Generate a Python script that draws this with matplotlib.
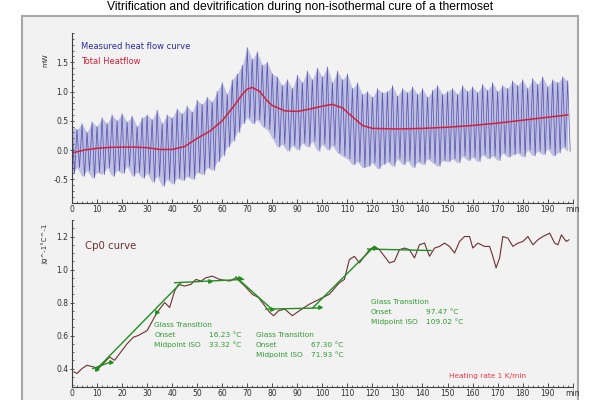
import numpy as np
import matplotlib
matplotlib.use('Agg')
import matplotlib.pyplot as plt
from matplotlib.patches import Rectangle
from matplotlib.ticker import MultipleLocator, FixedLocator, FixedFormatter, FormatStrFormatter

plt.rcParams['font.family'] = ['DejaVu Sans']
plt.rcParams['axes.unicode_minus'] = False

# 上图：调制热流（峰值/谷值，每分钟交替）
hf_peaks = [0.42, 0.35, 0.45, 0.30, 0.48, 0.40,
            0.55, 0.45, 0.60, 0.50, 0.62, 0.48, 0.58, 0.40, 0.55, 0.60,
            0.52, 0.68, 0.45, 0.60, 0.55, 0.70, 0.62,
            0.75, 0.65, 0.85, 0.78, 0.90, 0.82,
            1.00, 1.15, 0.95, 1.20, 1.30, 1.45,
            1.75, 1.55, 1.68, 1.45, 1.50, 1.30,
            1.25, 1.10, 1.20, 1.05, 1.28, 1.15,
            1.35, 1.20, 1.40, 1.25, 1.42, 1.15, 1.35, 1.20, 1.30,
            1.05, 1.15, 0.95, 1.00, 0.90, 1.05, 0.98,
            1.00, 1.10, 0.92, 1.05, 0.98, 1.08, 0.95, 1.05, 0.90, 1.02, 1.10, 0.95, 1.00,
            1.05, 0.95, 1.10, 1.00, 1.08, 0.98, 1.12, 1.02, 1.15, 1.00, 1.10, 1.05, 1.18,
            1.10, 1.20, 1.05, 1.22, 1.12, 1.25, 1.08, 1.20, 1.15, 1.25, 1.18]
hf_troughs = [-0.40, -0.30, -0.45, -0.35, -0.48, -0.38,
              -0.42, -0.30, -0.45, -0.35, -0.40, -0.28, -0.45, -0.38, -0.48, -0.40,
              -0.55, -0.45, -0.62, -0.50, -0.58, -0.48, -0.52,
              -0.45, -0.50, -0.38, -0.42, -0.30, -0.35,
              -0.20, -0.10, 0.05, 0.15, 0.30, 0.45,
              0.55, 0.45, 0.52, 0.40, 0.35, 0.20,
              0.05, 0.10, -0.02, 0.08, 0.00, 0.12,
              0.05, 0.15, -0.02, 0.10, 0.00, 0.08, -0.05, -0.10, -0.15,
              -0.25, -0.20, -0.30, -0.28, -0.22, -0.32, -0.25,
              -0.20, -0.28, -0.15, -0.25, -0.18, -0.30, -0.20, -0.25, -0.15, -0.22, -0.28, -0.18, -0.20,
              -0.15, -0.22, -0.10, -0.18, -0.12, -0.20, -0.08, -0.15, -0.10, -0.18, -0.05, -0.12, -0.08,
              -0.05, -0.12, 0.00, -0.10, -0.02, -0.08, 0.02, -0.10, -0.05, 0.05, -0.02]

# 总热流
total_t = [0, 5, 10, 15, 20, 25, 30, 35, 40, 45, 50, 55, 60, 65, 68, 70, 72, 75, 78, 80, 85,
           90, 95, 100, 104, 108, 112, 116, 120, 130, 140, 150, 160, 170, 180, 190, 198]
total_v = [-0.05, 0.0, 0.03, 0.045, 0.05, 0.05, 0.04, 0.01, 0.01, 0.06, 0.20, 0.32, 0.50, 0.77,
           0.95, 1.04, 1.07, 1.00, 0.84, 0.76, 0.67, 0.66, 0.70, 0.75, 0.78, 0.72, 0.57, 0.42,
           0.37, 0.36, 0.37, 0.39, 0.42, 0.46, 0.51, 0.56, 0.60]

# 下图：Cp0 曲线
cp_t = [0.8, 2, 4, 6, 8.5, 10.5, 12.5, 15, 17, 19, 22, 24.5, 26.5, 30, 34, 37, 39, 41, 42.5,
        45, 47.5, 49.5, 51.5, 53.5, 56, 59, 63, 65.5, 69, 72, 74.5, 77, 79, 80.5, 82.5, 85,
        88, 90.8, 94.8, 98.8, 102.8, 106.8, 108.8, 110.8, 112.8, 114.8, 116.8, 118.8, 120.8,
        122.8, 124.8, 126.8, 128.8, 130.8, 132.8, 134.8, 136.8, 138.8, 140.8, 142.8, 144.8,
        146.8, 148.8, 150.8, 152.8, 154.8, 156.8, 158.8, 160.1, 162.1, 164.8, 166.8, 168.1,
        169.4, 170.8, 172.1, 174.1, 176.1, 178.1, 180.1, 182.1, 184.1, 186.1, 188.1, 190.8,
        192.8, 194.1, 195.5, 197.4, 198.5]
cp_v = [0.38, 0.37, 0.40, 0.42, 0.41, 0.40, 0.43, 0.47, 0.45, 0.49, 0.55, 0.59, 0.60, 0.63,
        0.74, 0.80, 0.77, 0.87, 0.91, 0.90, 0.91, 0.94, 0.93, 0.95, 0.96, 0.94, 0.93, 0.95,
        0.90, 0.85, 0.83, 0.78, 0.74, 0.72, 0.75, 0.76, 0.72, 0.75, 0.79, 0.82, 0.85, 0.92,
        0.94, 1.06, 1.08, 1.04, 1.08, 1.12, 1.14, 1.12, 1.08, 1.04, 1.05, 1.12, 1.13, 1.12,
        1.07, 1.15, 1.16, 1.08, 1.13, 1.14, 1.16, 1.14, 1.10, 1.17, 1.20, 1.20, 1.13, 1.16,
        1.14, 1.14, 1.08, 1.01, 1.07, 1.20, 1.19, 1.14, 1.16, 1.17, 1.20, 1.15, 1.18, 1.20,
        1.22, 1.16, 1.15, 1.21, 1.17, 1.18]

# 切线 (x0, y0, x1, y1)
tangents = [(8.3, 0.40, 15.6, 0.44),
            (9.4, 0.39, 43.6, 0.92),
            (41.0, 0.92, 68.5, 0.94),
            (65.5, 0.955, 80.0, 0.757),
            (77.5, 0.76, 98.8, 0.767),
            (96.1, 0.767, 120.8, 1.14),
            (118.1, 1.124, 143.4, 1.115)]
tangent_pts_t = [10, 15.6, 34, 55, 67, 80, 99, 121]
tangent_pts_v = [0.40, 0.44, 0.74, 0.93, 0.95, 0.76, 0.77, 1.13]

# 玻璃化转变标注
gt_onset = ['16.23 °C', '67.30 °C', '97.47 °C']
gt_mid = ['33.32 °C', '71.93 °C', '109.02 °C']

xtick_vals = list(range(0, 201, 10))
xtick_labels = [str(v) for v in range(0, 200, 10)] + ['min']

blue = '#2b2b9b'
red = '#d0203c'
green = '#1f8f1f'
green_txt = '#2f9a2f'
brown = '#6e3030'
bg = '#f2f2f2'

fig = plt.figure(figsize=(6, 4), dpi=100)
panel = Rectangle((22 / 600, -0.02), 556 / 600, 1.0 - 16 / 400 + 0.02,
                  transform=fig.transFigure, facecolor=bg,
                  edgecolor='#a8a8a8', lw=1.5, zorder=-10)
fig.add_artist(panel)
fig.text(0.5, 1 - 7 / 400, 'Vitrification and devitrification during non-isothermal cure of a thermoset',
         ha='center', va='center', fontsize=8.7, family='Liberation Sans')

ax1 = fig.add_axes([72 / 600, (400 - 202.7) / 400, 500.7 / 600, 169.7 / 400])
ax2 = fig.add_axes([72 / 600, (400 - 386.7) / 400, 500.7 / 600, 166.7 / 400])


def style_axis(ax, ymajor, yminor):
    ax.set_facecolor('none')
    for s in ['top', 'right']:
        ax.spines[s].set_visible(False)
    for s in ['left', 'bottom']:
        ax.spines[s].set_color('#404040')
        ax.spines[s].set_linewidth(0.8)
    ax.set_xlim(0, 200)
    ax.xaxis.set_major_locator(FixedLocator(xtick_vals))
    ax.xaxis.set_major_formatter(FixedFormatter(xtick_labels))
    ax.xaxis.set_minor_locator(MultipleLocator(2))
    ax.yaxis.set_major_locator(FixedLocator(ymajor))
    ax.yaxis.set_minor_locator(MultipleLocator(yminor))
    ax.yaxis.set_major_formatter(FormatStrFormatter('%.1f'))
    ax.tick_params(axis='x', which='major', direction='in', length=3, width=0.6,
                   labelsize=5.5, pad=2, colors='#303030')
    ax.tick_params(axis='x', which='minor', direction='in', length=1.5, width=0.5, colors='#303030')
    ax.tick_params(axis='y', which='major', direction='inout', length=3, width=0.6,
                   labelsize=5.5, pad=1, colors='#303030')
    ax.tick_params(axis='y', which='minor', direction='in', length=1.5, width=0.5, colors='#303030')


# 上图
hf = np.empty(len(hf_peaks) + len(hf_troughs))
hf[0::2] = hf_peaks
hf[1::2] = hf_troughs
hf_t = np.arange(len(hf))
ax1.fill_between(hf_t[0::2], hf_peaks, hf_troughs, color='#b6b6e0', lw=0, alpha=0.85)
ax1.plot(hf_t, hf, color=blue, lw=0.55, alpha=0.7)
ax1.plot(total_t, total_v, color=red, lw=1.1)
ax1.set_ylim(-0.9, 2.0)
style_axis(ax1, [-0.5, 0.0, 0.5, 1.0, 1.5], 0.1)
ax1.text(0.018, 0.92, 'Measured heat flow curve', transform=ax1.transAxes, color=blue,
         fontsize=6, va='center')
ax1.text(0.018, 0.83, 'Total Heatflow', transform=ax1.transAxes, color=red,
         fontsize=6, va='center')
ax1.text(-0.054, 0.84, 'mW', transform=ax1.transAxes, rotation=90, fontsize=5,
         ha='center', va='center', color='#303030')

# 下图
ax2.plot(cp_t, cp_v, color=brown, lw=0.8)
for x0, y0, x1, y1 in tangents:
    ax2.plot([x0, x1], [y0, y1], color=green, lw=1.0)
ax2.plot(tangent_pts_t, tangent_pts_v, ls='none', marker='>', ms=2.5, color=green)
ax2.set_ylim(0.29, 1.30)
style_axis(ax2, [0.4, 0.6, 0.8, 1.0, 1.2], 0.05)
ax2.text(5, 1.145, 'Cp0 curve', color=brown, fontsize=7.3, va='center')
ax2.text(-0.054, 0.856, 'Jg^-1°C^-1', transform=ax2.transAxes, rotation=90, fontsize=5,
         ha='center', va='center', color='#303030')

gt_pos = [(32.9, 0.666, 54.9), (73.5, 0.601, 95.5), (119.4, 0.803, 141.4)]
for (x, y, xv), on, mid in zip(gt_pos, gt_onset, gt_mid):
    ax2.text(x, y, 'Glass Transition', color=green_txt, fontsize=5.3, va='center')
    ax2.text(x, y - 0.06, 'Onset', color=green_txt, fontsize=5.3, va='center')
    ax2.text(xv, y - 0.06, on, color=green_txt, fontsize=5.3, va='center')
    ax2.text(x, y - 0.121, 'Midpoint ISO', color=green_txt, fontsize=5.3, va='center')
    ax2.text(xv, y - 0.121, mid, color=green_txt, fontsize=5.3, va='center')

ax2.text(150.7, 0.353, 'Heating rate 1 K/min', color='#f03848', fontsize=5.3, va='center')

fig.savefig('out.png', dpi=100)
